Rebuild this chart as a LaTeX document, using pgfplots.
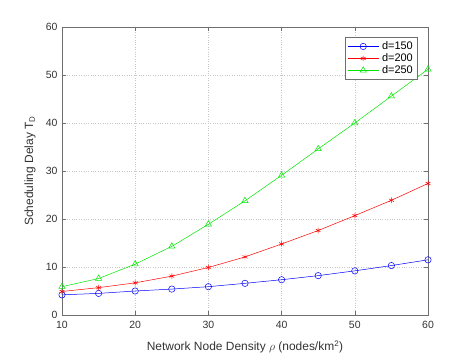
\documentclass[border=0pt]{standalone}
\usepackage{pgfplots}
\pgfplotsset{compat=1.18}
\usepackage{fontspec}
\setmainfont{Liberation Sans}
\definecolor{axgray}{RGB}{110,110,110}
\definecolor{mgreen}{RGB}{0,230,0}
\begin{document}
\begin{tikzpicture}
\path[use as bounding box] (-62bp,-40bp) rectangle (412bp,315bp);
\begin{axis}[
  at={(0,0)}, anchor=south west,
  scale only axis,
  width=366bp, height=288bp,
  xmin=10, xmax=60, ymin=0, ymax=60,
  xtick={10,20,...,60}, ytick={0,10,...,60},
  grid=major,
  major grid style={dotted, gray!45, line width=0.5pt},
  axis line style={axgray, line width=0.5pt},
  tick style={axgray, line width=0.5pt},
  tick align=inside,
  major tick length=4bp,
  ticklabel style={font=\fontsize{10.5}{12}\selectfont, text=black!80},
  xticklabel style={yshift=-3bp},
  yticklabel style={xshift=-1bp},
  /pgf/number format/assume math mode=true,
  xlabel={Network Node Density $\rho$ (nodes/km\textsuperscript{2})},
  ylabel={Scheduling Delay T\textsubscript{D}},
  label style={font=\fontsize{12}{14}\selectfont, text=black!80},
  xlabel style={at={(axis description cs:0.5,0)}, anchor=center, yshift=-32bp},
  ylabel style={at={(axis description cs:0,0.5)}, anchor=center, yshift=32bp},
  legend style={at={(0.97,0.965)}, anchor=north east, draw=axgray, font=\fontsize{11}{13}\selectfont, cells={anchor=west}, row sep=-1.5pt, inner ysep=2.5pt, inner xsep=2pt},
  legend cell align=left,
  legend image code/.code={\draw[mark repeat=2,mark phase=2] plot coordinates {(0cm,0cm) (0.55cm,0cm) (1.1cm,0cm)};},
  every axis plot/.append style={line width=0.5pt},
]
\addplot[blue, mark=o, mark size=3.2pt, mark options={solid}] coordinates {
(10,4.2) (15,4.5) (20,5.0) (25,5.4) (30,5.9) (35,6.6) (40,7.35) (45,8.2) (50,9.2) (55,10.3) (60,11.5)};
\addlegendentry{\hspace{1pt}d=150\hspace{3pt}}
\addplot[red, mark=asterisk, mark size=2.8pt] coordinates {
(10,4.9) (15,5.7) (20,6.7) (25,8.1) (30,9.9) (35,12.1) (40,14.8) (45,17.6) (50,20.7) (55,23.9) (60,27.4)};
\addlegendentry{\hspace{1pt}d=200\hspace{3pt}}
\addplot[mgreen, mark=triangle, mark size=3.6pt] coordinates {
(10,5.9) (15,7.6) (20,10.6) (25,14.3) (30,18.9) (35,23.8) (40,29.1) (45,34.6) (50,40.0) (55,45.6) (60,51.2)};
\addlegendentry{\hspace{1pt}d=250\hspace{3pt}}
\end{axis}
\end{tikzpicture}
\end{document}
